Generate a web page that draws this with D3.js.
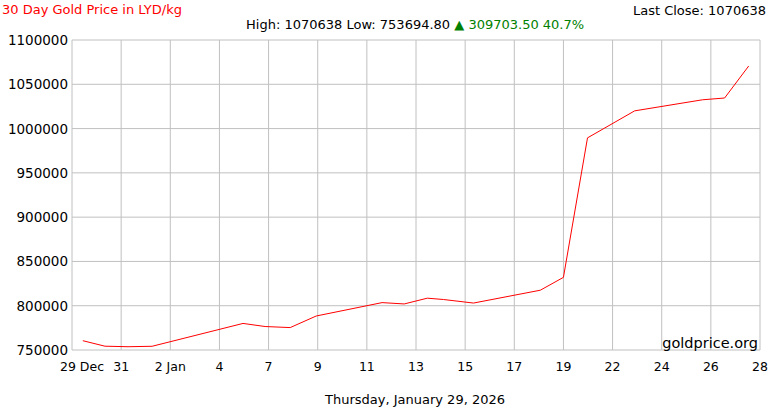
<!DOCTYPE html>
<html><head><meta charset="utf-8">
<script src="https://cdn.jsdelivr.net/npm/d3@7"></script>
<style>body{margin:0;background:#fff}svg{font-family:"DejaVu Sans",Verdana,sans-serif}</style>
</head><body>
<script>
// tick labels along x, one per tick slot
const tickLabels = ["29 Dec","31","2 Jan","4","7","9","11","13","15","17","19","22","24","26","28"];
// price points: position in tick slots, value in LYD/kg
const pos = [0.22,0.67,1.14,1.63,3.48,3.93,4.44,4.97,6.31,6.76,7.23,7.56,8.17,9.53,10.0,10.49,11.45,12.83,13.28,13.77];
const price = [760500,754300,753695,754200,780000,776500,775300,788400,803500,802000,808500,807000,803000,817500,832000,989500,1020000,1032500,1034500,1070638];
const yTicks = [750000,800000,850000,900000,950000,1000000,1050000,1100000];

const width = 770, height = 410;
const m = {left:72, right:10, top:40, bottom:60};

const svg = d3.select("body").append("svg").attr("width", width).attr("height", height);

const x = d3.scaleLinear().domain([0, tickLabels.length - 1]).range([m.left, width - m.right]);
const y = d3.scaleLinear().domain([750000, 1100000]).range([height - m.bottom, m.top]);

// grid
svg.append("g").selectAll("line").data(yTicks).join("line")
  .attr("x1", m.left).attr("x2", width - m.right)
  .attr("y1", d => y(d)).attr("y2", d => y(d))
  .attr("stroke", "#c0c0c0");
svg.append("g").selectAll("line").data(tickLabels).join("line")
  .attr("x1", (d, i) => x(i)).attr("x2", (d, i) => x(i))
  .attr("y1", m.top).attr("y2", height - m.bottom)
  .attr("stroke", "#c0c0c0");

// axis labels
svg.append("g").selectAll("text").data(yTicks).join("text")
  .attr("x", m.left - 4).attr("y", d => y(d) + 5)
  .attr("text-anchor", "end").attr("font-size", 13.5).text(d => d);
svg.append("g").selectAll("text").data(tickLabels).join("text")
  .attr("x", (d, i) => x(i) + (i === 0 ? 10 : 0)).attr("y", height - m.bottom + 21)
  .attr("text-anchor", "middle").attr("font-size", 12.5).text(d => d);

// line
svg.append("path").datum(pos.map((p, i) => [p, price[i]]))
  .attr("d", d3.line().x(d => x(d[0])).y(d => y(d[1])))
  .attr("fill", "none").attr("stroke", "#ff0000").attr("stroke-width", 1);

// titles
svg.append("text").attr("x", 2).attr("y", 14).attr("fill", "#ff0000").attr("font-size", 13)
  .text("30 Day Gold Price in LYD/kg");
svg.append("text").attr("x", width - 4).attr("y", 15).attr("text-anchor", "end").attr("font-size", 13)
  .text("Last Close: 1070638");
const hl = svg.append("text").attr("x", 246).attr("y", 29).attr("font-size", 13);
hl.append("tspan").text("High: 1070638 Low: 753694.80 ");
hl.append("tspan").attr("fill", "#008000").text("▲ 309703.50 40.7%");
svg.append("text").attr("x", width - 12).attr("y", 348).attr("text-anchor", "end").attr("font-size", 14.5)
  .text("goldprice.org");
svg.append("text").attr("x", 415).attr("y", 404).attr("text-anchor", "middle").attr("font-size", 13)
  .text("Thursday, January 29, 2026");
</script>
</body></html>
